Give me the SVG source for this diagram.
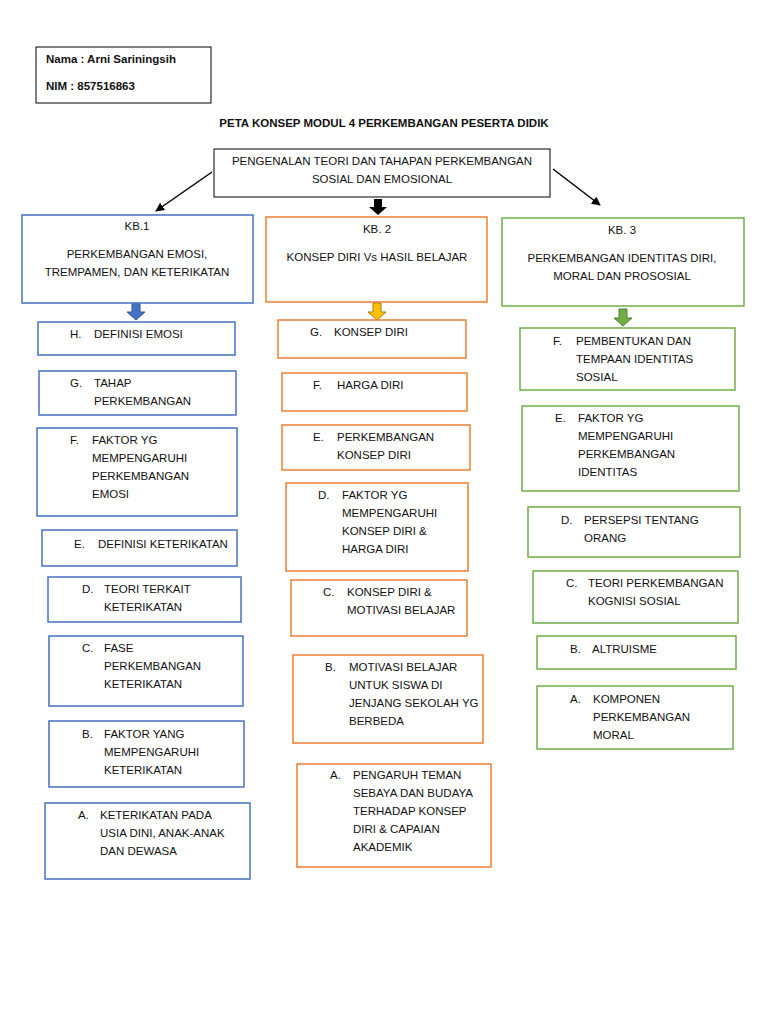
<svg xmlns="http://www.w3.org/2000/svg" width="768" height="1024" viewBox="0 0 768 1024">
<defs>
<style>
text{font-family:"Liberation Sans",Arial,sans-serif;font-size:11.5px;fill:#111}
.b{font-weight:bold}
.c{text-anchor:middle}
.bl{fill:#fff;stroke:#4472c4;stroke-width:1.5}
.or{fill:#fff;stroke:#ed7d31;stroke-width:1.5}
.gr{fill:#fff;stroke:#70ad47;stroke-width:1.5}
.k{fill:#fff;stroke:#000;stroke-width:1}
</style>
<marker id="ah" viewBox="0 0 10 10" refX="9" refY="5" markerWidth="6" markerHeight="6" orient="auto"><path d="M0,0L10,5L0,10z" fill="#000"/></marker>
</defs>
<rect width="768" height="1024" fill="#fff"/>
<g id="header">
<rect class="k" x="36" y="47" width="175" height="56"/>
<text class="b" x="46" y="63">Nama : Arni Sariningsih</text>
<text class="b" x="46" y="90">NIM : 857516863</text>
<text class="b c" x="384" y="127">PETA KONSEP MODUL 4 PERKEMBANGAN PESERTA DIDIK</text>
</g>
<g id="root">
<rect class="k" x="214" y="149" width="336" height="48"/>
<text class="c" x="382" y="165">PENGENALAN TEORI DAN TAHAPAN PERKEMBANGAN</text>
<text class="c" x="382" y="183">SOSIAL DAN EMOSIONAL</text>
</g>
<g id="connectors">
<line x1="212" y1="172" x2="156" y2="211" stroke="#000" stroke-width="1.5" marker-end="url(#ah)"/>
<line x1="553" y1="169" x2="600" y2="205" stroke="#000" stroke-width="1.5" marker-end="url(#ah)"/>
<path d="M374,199h8v8h5l-9,8l-9,-8h5z" fill="#000"/>
<path d="M132,303h8v9h5l-9,8l-9,-8h5z" fill="#4472c4" stroke="#2f528f"/>
<path d="M373,303h8v9h5l-9,8l-9,-8h5z" fill="#ffc000" stroke="#b07a00"/>
<path d="M619,309h8v9h5l-9,8l-9,-8h5z" fill="#70ad47" stroke="#507e32"/>
</g>
<g id="kb1"><rect class="bl" x="22" y="215" width="231" height="88"/>
<text class="c" x="137" y="230">KB.1</text><text class="c" x="137" y="258">PERKEMBANGAN EMOSI,</text><text class="c" x="137" y="276">TREMPAMEN, DAN KETERIKATAN</text></g>
<g id="kb2"><rect class="or" x="266" y="217" width="221" height="85"/>
<text class="c" x="377" y="233">KB. 2</text><text class="c" x="377" y="261">KONSEP DIRI Vs HASIL BELAJAR</text></g>
<g id="kb3"><rect class="gr" x="502" y="218" width="242" height="88"/>
<text class="c" x="622" y="234">KB. 3</text><text class="c" x="622" y="262">PERKEMBANGAN IDENTITAS DIRI,</text><text class="c" x="622" y="280">MORAL DAN PROSOSIAL</text></g>

<g id="b1h"><rect class="bl" x="38" y="322" width="197" height="33"/><text x="70" y="338">H.</text><text x="94" y="338">DEFINISI EMOSI</text></g>
<g id="b1g"><rect class="bl" x="39" y="371" width="197" height="44"/><text x="70" y="387">G.</text><text x="94" y="387">TAHAP</text><text x="94" y="405">PERKEMBANGAN</text></g>
<g id="b1f"><rect class="bl" x="37" y="428" width="200" height="88"/><text x="70" y="444">F.</text><text x="92" y="444">FAKTOR YG</text><text x="92" y="462">MEMPENGARUHI</text><text x="92" y="480">PERKEMBANGAN</text><text x="92" y="498">EMOSI</text></g>
<g id="b1e"><rect class="bl" x="42" y="530" width="195" height="36"/><text x="74" y="548">E.</text><text x="98" y="548">DEFINISI KETERIKATAN</text></g>
<g id="b1d"><rect class="bl" x="48" y="577" width="193" height="45"/><text x="82" y="593">D.</text><text x="104" y="593">TEORI TERKAIT</text><text x="104" y="611">KETERIKATAN</text></g>
<g id="b1c"><rect class="bl" x="49" y="636" width="194" height="70"/><text x="82" y="652">C.</text><text x="104" y="652">FASE</text><text x="104" y="670">PERKEMBANGAN</text><text x="104" y="688">KETERIKATAN</text></g>
<g id="b1b"><rect class="bl" x="49" y="721" width="195" height="66"/><text x="82" y="738">B.</text><text x="104" y="738">FAKTOR YANG</text><text x="104" y="756">MEMPENGARUHI</text><text x="104" y="774">KETERIKATAN</text></g>
<g id="b1a"><rect class="bl" x="45" y="803" width="205" height="76"/><text x="78" y="819">A.</text><text x="100" y="819">KETERIKATAN PADA</text><text x="100" y="837">USIA DINI, ANAK-ANAK</text><text x="100" y="855">DAN DEWASA</text></g>

<g id="b2g"><rect class="or" x="278" y="320" width="188" height="38"/><text x="310" y="336">G.</text><text x="334" y="336">KONSEP DIRI</text></g>
<g id="b2f"><rect class="or" x="282" y="373" width="185" height="38"/><text x="313" y="389">F.</text><text x="337" y="389">HARGA DIRI</text></g>
<g id="b2e"><rect class="or" x="282" y="425" width="188" height="45"/><text x="313" y="441">E.</text><text x="337" y="441">PERKEMBANGAN</text><text x="337" y="459">KONSEP DIRI</text></g>
<g id="b2d"><rect class="or" x="286" y="483" width="182" height="88"/><text x="318" y="499">D.</text><text x="342" y="499">FAKTOR YG</text><text x="342" y="517">MEMPENGARUHI</text><text x="342" y="535">KONSEP DIRI &amp;</text><text x="342" y="553">HARGA DIRI</text></g>
<g id="b2c"><rect class="or" x="291" y="580" width="176" height="56"/><text x="323" y="596">C.</text><text x="347" y="596">KONSEP DIRI &amp;</text><text x="347" y="614">MOTIVASI BELAJAR</text></g>
<g id="b2b"><rect class="or" x="293" y="655" width="190" height="88"/><text x="325" y="671">B.</text><text x="349" y="671">MOTIVASI BELAJAR</text><text x="349" y="689">UNTUK SISWA DI</text><text x="349" y="707">JENJANG SEKOLAH YG</text><text x="349" y="725">BERBEDA</text></g>
<g id="b2a"><rect class="or" x="297" y="764" width="194" height="103"/><text x="330" y="779">A.</text><text x="353" y="779">PENGARUH TEMAN</text><text x="353" y="797">SEBAYA DAN BUDAYA</text><text x="353" y="815">TERHADAP KONSEP</text><text x="353" y="833">DIRI &amp; CAPAIAN</text><text x="353" y="851">AKADEMIK</text></g>

<g id="b3f"><rect class="gr" x="520" y="328" width="215" height="62"/><text x="553" y="345">F.</text><text x="576" y="345">PEMBENTUKAN DAN</text><text x="576" y="363">TEMPAAN IDENTITAS</text><text x="576" y="381">SOSIAL</text></g>
<g id="b3e"><rect class="gr" x="522" y="406" width="217" height="85"/><text x="555" y="422">E.</text><text x="578" y="422">FAKTOR YG</text><text x="578" y="440">MEMPENGARUHI</text><text x="578" y="458">PERKEMBANGAN</text><text x="578" y="476">IDENTITAS</text></g>
<g id="b3d"><rect class="gr" x="528" y="507" width="212" height="50"/><text x="561" y="524">D.</text><text x="584" y="524">PERSEPSI TENTANG</text><text x="584" y="542">ORANG</text></g>
<g id="b3c"><rect class="gr" x="533" y="571" width="205" height="52"/><text x="566" y="587">C.</text><text x="588" y="587">TEORI PERKEMBANGAN</text><text x="588" y="605">KOGNISI SOSIAL</text></g>
<g id="b3b"><rect class="gr" x="537" y="636" width="199" height="33"/><text x="570" y="653">B.</text><text x="592" y="653">ALTRUISME</text></g>
<g id="b3a"><rect class="gr" x="537" y="686" width="196" height="63"/><text x="570" y="703">A.</text><text x="593" y="703">KOMPONEN</text><text x="593" y="721">PERKEMBANGAN</text><text x="593" y="739">MORAL</text></g>
</svg>
